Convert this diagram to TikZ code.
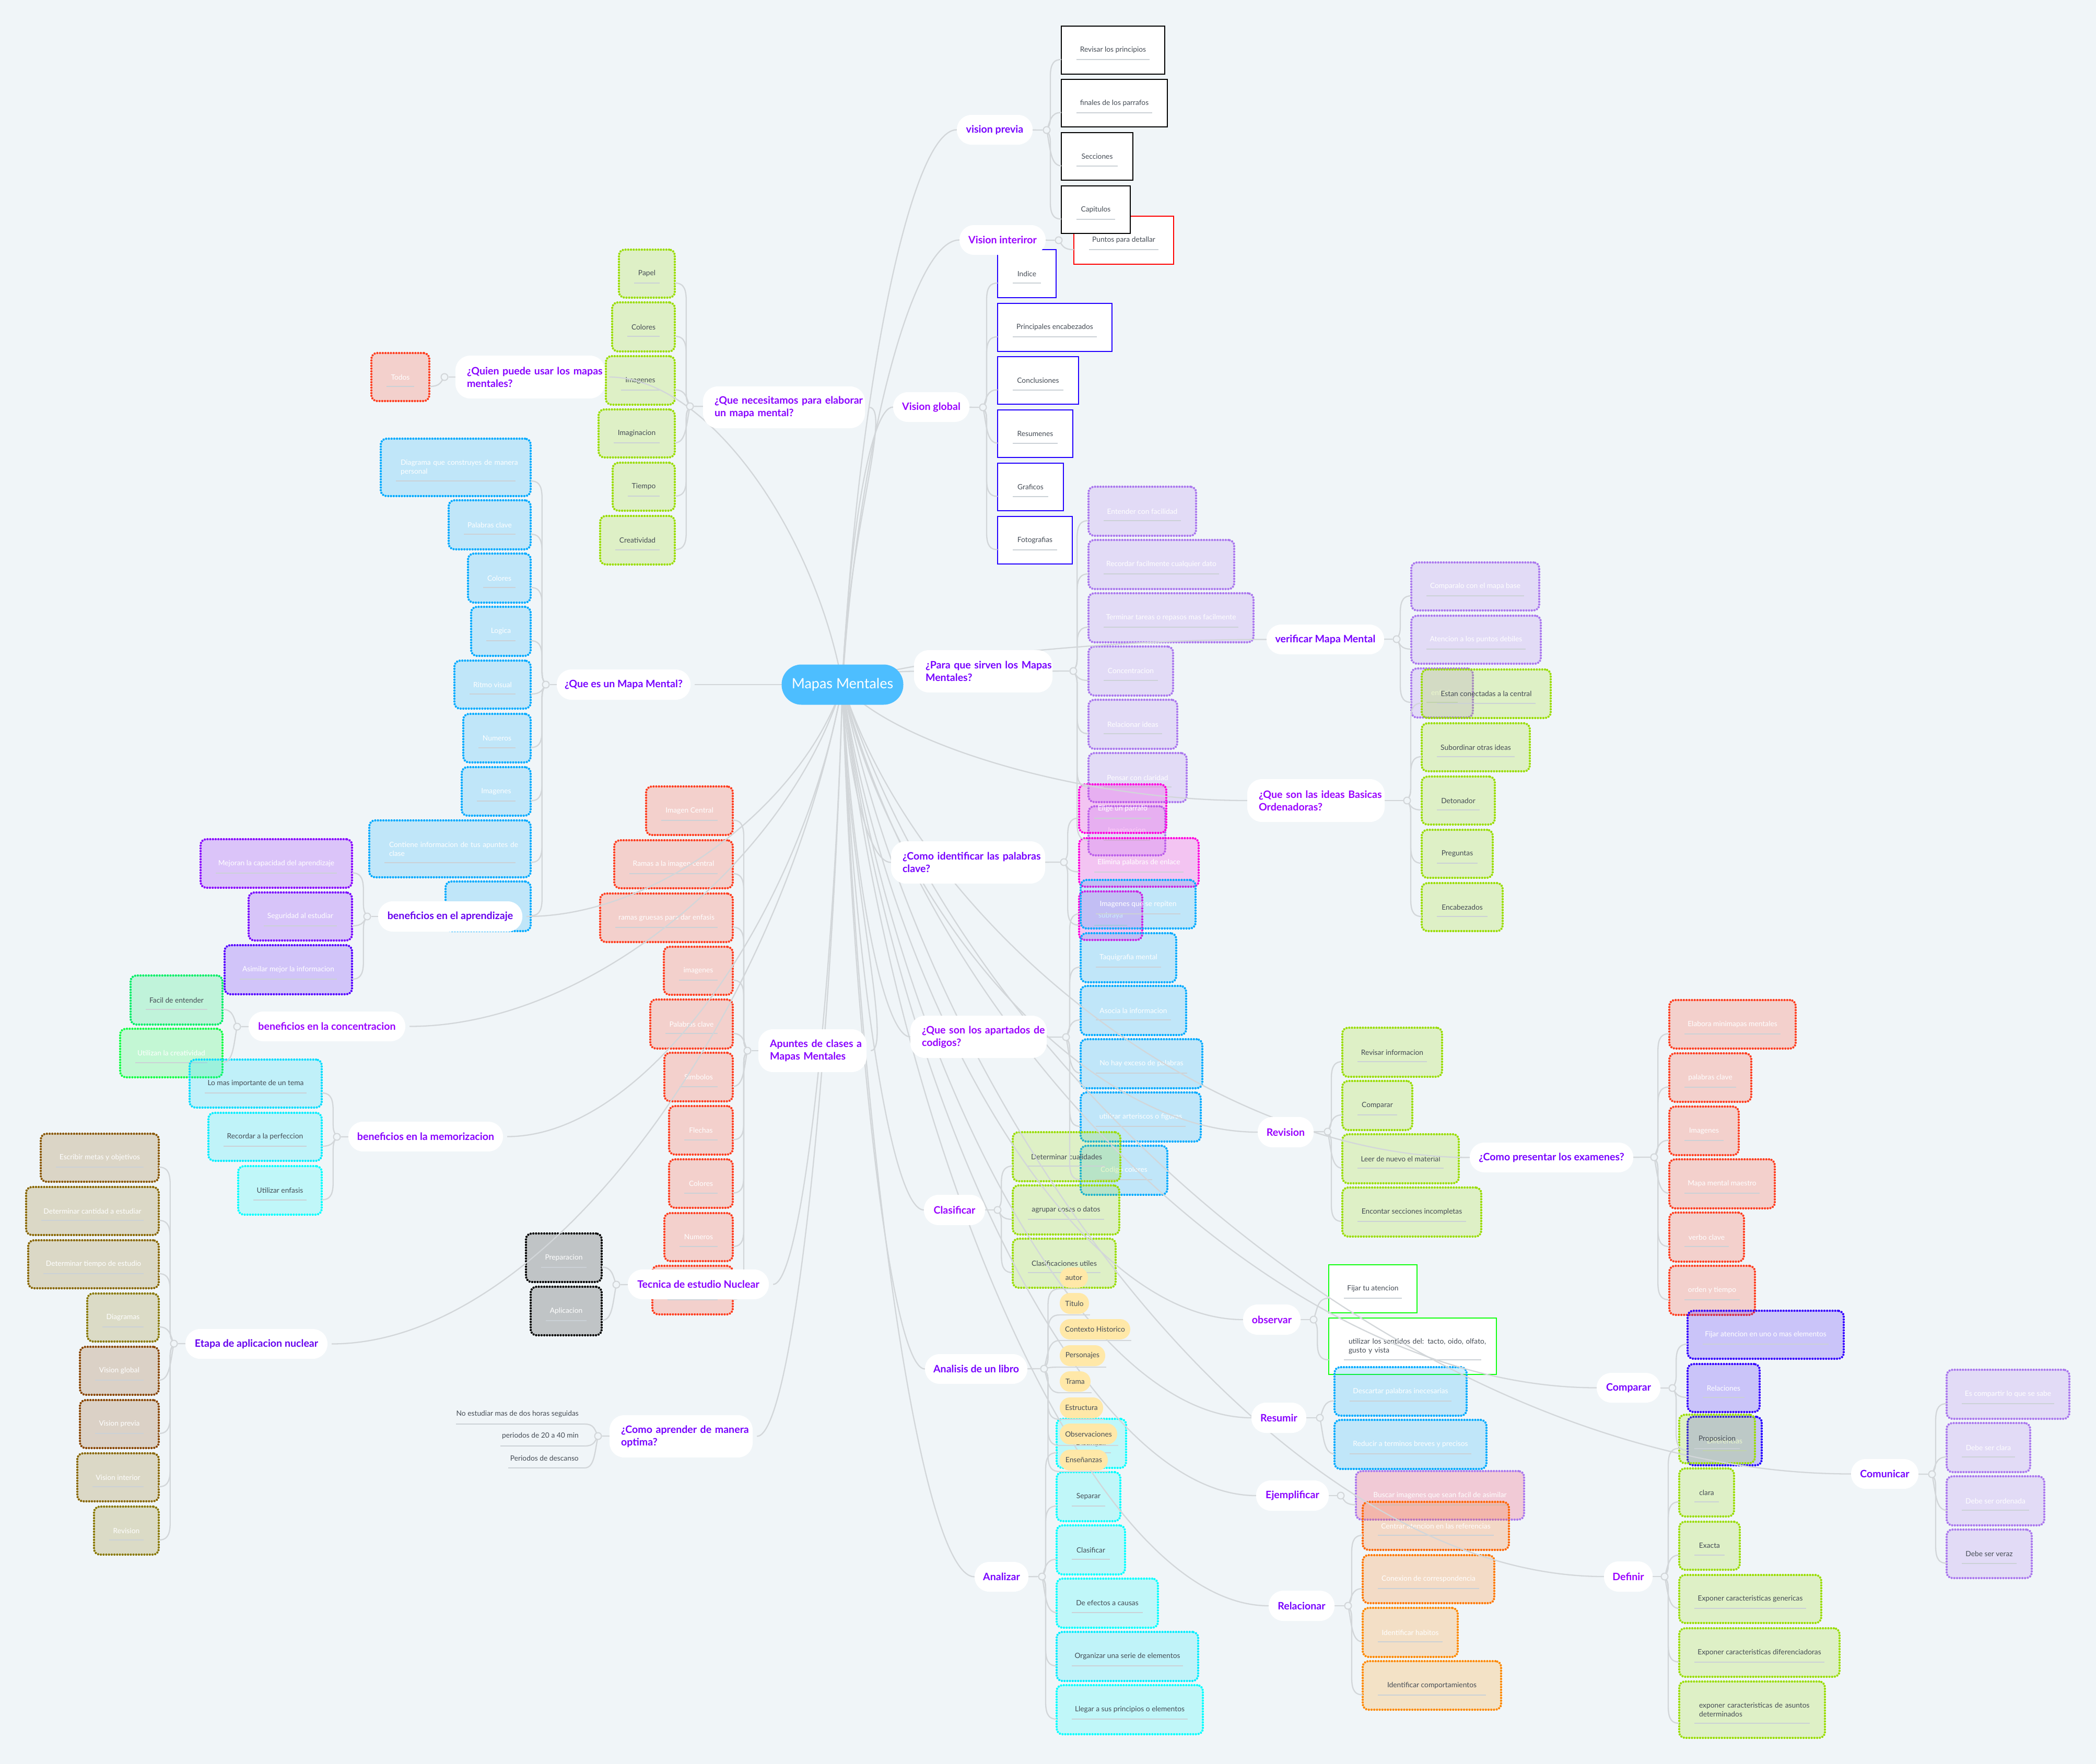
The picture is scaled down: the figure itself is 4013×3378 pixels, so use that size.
\documentclass[tikz,border=0pt]{standalone}
\usepackage{fontspec}
\setmainfont{Lato}
\definecolor{bgc}{HTML}{F0F5F8}
\definecolor{conc}{HTML}{D2D6D9}
\definecolor{ulc}{HTML}{CBD1D6}
\definecolor{txtc}{HTML}{454C55}
\definecolor{cLime}{HTML}{99DD00}
\definecolor{cRed}{HTML}{FF3D1F}
\definecolor{cBlue}{HTML}{00AAFF}
\definecolor{cViol}{HTML}{AA77EE}
\definecolor{cMag}{HTML}{FF00DD}
\definecolor{cIndigo}{HTML}{3300FF}
\definecolor{cCyan}{HTML}{00EEFF}
\definecolor{cBrownA}{HTML}{885500}
\definecolor{cBrownB}{HTML}{886600}
\definecolor{cBrownC}{HTML}{887700}
\definecolor{cBrownD}{HTML}{884400}
\definecolor{cP1}{HTML}{8800FF}
\definecolor{cP2}{HTML}{7700FF}
\definecolor{cP3}{HTML}{5500FF}
\definecolor{cG1}{HTML}{00EE66}
\definecolor{cG2}{HTML}{11FF44}
\definecolor{cC1}{HTML}{00DDFF}
\definecolor{cC2}{HTML}{00EEFF}
\definecolor{cC3}{HTML}{00FFFF}
\definecolor{cO1}{HTML}{FF6600}
\definecolor{cO2}{HTML}{FF7700}
\definecolor{cO3}{HTML}{FF8800}
\definecolor{cO4}{HTML}{FF9900}
\definecolor{cPink}{HTML}{F52050}
\definecolor{cFG}{HTML}{11FF11}
\definecolor{cBX}{HTML}{2200FF}
\definecolor{tA}{HTML}{8800FF}
\definecolor{tB}{HTML}{9900FF}
\definecolor{tC}{HTML}{7700FF}
\definecolor{tD}{HTML}{6600EE}
\definecolor{yel}{HTML}{FFE8A8}
\definecolor{cenc}{HTML}{4DBEFF}
\pgfdeclarelayer{lv}
\pgfdeclarelayer{cn}
\pgfsetlayers{lv,cn,main}
\newcommand\leaffont{\fontsize{13.8}{17}\selectfont}
\newcommand\pillfont{\fontsize{19.6}{24}\selectfont\bfseries}
\newcommand\tl[2]{\mbox{#1}\\\mbox{#2}}
\tikzset{
  lf/.style={draw=#1,fill=#1,fill opacity=.2,draw opacity=1,text opacity=1,rounded corners=11pt,
    dash pattern=on 0.01pt off 5.2pt,line cap=round,line width=4.3pt,inner sep=0pt,align=center,font=\leaffont},
  wb/.style={draw=#1,fill=white,line width=2.4pt,inner sep=0pt,align=center,font=\leaffont,text=txtc},
  wt/.style={text=white},
  dk/.style={text=txtc},
  two/.style={align=left,text width=\tw pt},
  plf/.style={inner sep=0pt,font=\leaffont,text=txtc,anchor=east},
  pl/.style={fill=white,rounded corners=28pt,inner sep=0pt,align=center,font=\pillfont,text=#1},
  yp/.style={fill=yel,rounded corners=19.5pt,inner sep=0pt,align=center,font=\leaffont,text=txtc},
  ul/.style={draw=ulc,line width=2pt},
  con/.style={draw=conc,line width=2.3pt},
  hubs/.style={circle,minimum size=13pt,inner sep=0pt,draw=conc,line width=2pt,fill=bgc},
  cent/.style={fill=cenc,rounded corners=38pt,inner sep=0pt,align=center,text=white,font=\fontsize{27}{32}\selectfont}
}
% leaf box: [underline offset]{style}{name}{x1}{y1}{x2}{y2}{text}
\newcommand\leaf[8][18]{%
  \pgfmathsetmacro\cxx{(#4+#6)/2}\pgfmathsetmacro\cyy{(#5+#7)/2}%
  \pgfmathsetmacro\nw{#6-#4}\pgfmathsetmacro\nh{#7-#5}\pgfmathsetmacro\tw{#6-#4-76}%
  \pgfmathsetmacro\uly{\cyy+#1}\pgfmathsetmacro\ula{#4+29}\pgfmathsetmacro\ulb{#6-29}%
  \node[#2,minimum width=\nw pt,minimum height=\nh pt] (#3) at (\cxx,\cyy) {#8};
  \coordinate (#3-l) at (#4,\uly);
  \coordinate (#3-r) at (#6,\uly);
  \draw[ul] (\ula,\uly) -- (\ulb,\uly);
}
% pill: {style}{name}{x1}{y1}{x2}{y2}{text}
\newcommand\pill[7]{%
  \pgfmathsetmacro\cxx{(#3+#5)/2}\pgfmathsetmacro\cyy{(#4+#6)/2}%
  \pgfmathsetmacro\nw{#5-#3}\pgfmathsetmacro\nh{#6-#4}\pgfmathsetmacro\tw{#5-#3-44}%
  \node[#1,minimum width=\nw pt,minimum height=\nh pt] (#2) at (\cxx,\cyy) {#7};
}
% yellow pill: {name}{x1}{y1}{x2}{y2}{text}
\newcommand\ypill[6]{%
  \pgfmathsetmacro\cxx{(#2+#4)/2}\pgfmathsetmacro\cyy{(#3+#5)/2}%
  \pgfmathsetmacro\nw{#4-#2}\pgfmathsetmacro\nh{#5-#3}\pgfmathsetmacro\uly{#5+2}\pgfmathsetmacro\ulb{#4+2}%
  \node[yp,minimum width=\nw pt,minimum height=\nh pt] (#1) at (\cxx,\cyy) {#6};
  \coordinate (#1-l) at (#2,\uly);
  \coordinate (#1-e) at (\ulb,\uly);
}
% plain text leaf: {name}{x1}{ytext}{x2}{text}
\newcommand\pleaf[5]{%
  \pgfmathsetmacro\uly{#3+19}\pgfmathsetmacro\txx{#4-11}%
  \node[plf] (#1) at (\txx,#3) {#5};
  \coordinate (#1-r) at (#4,\uly);
  \coordinate (#1-a) at (#2,\uly);
  \draw[ul] (#1-a) -- (#1-r);
}
% hub to leaf connector
\newcommand\lnk[2]{%
  \pgfpointanchor{#1}{center}\pgfgetlastxy{\hxd}{\hyd}%
  \pgfpointanchor{#2}{center}\pgfgetlastxy{\lxd}{\lyd}%
  \pgfmathsetmacro\hxx{\hxd/1pt}\pgfmathsetmacro\hyy{\hyd/1pt}%
  \pgfmathsetmacro\lxx{\lxd/1pt}\pgfmathsetmacro\lyy{\lyd/1pt}%
  \pgfmathsetmacro\xmm{\hxx+0.25*(\lxx-\hxx)}%
  \pgfmathsetmacro\dyy{abs(\lyy-\hyy)}%
  \pgfmathsetmacro\sgg{(\lyy>\hyy)?1:-1}%
  \ifdim\dyy pt<75pt
    \pgfmathsetmacro\yaa{\hyy+\sgg*0.5*\dyy}%
    \draw[con] (\hxd,\hyd) .. controls (\xmm pt,\yaa pt) and (\xmm pt,\lyy pt) .. (\lxd,\lyd);
  \else
    \pgfmathsetmacro\yaa{\hyy+\sgg*12}\pgfmathsetmacro\ybb{\hyy+\sgg*36}%
    \pgfmathsetmacro\ycc{\lyy-\sgg*32}\pgfmathsetmacro\ydd{\lyy-\sgg*6}%
    \pgfmathsetmacro\xee{\xmm+0.3*(\lxx-\hxx)}%
    \draw[con] (\hxd,\hyd) .. controls (\xmm pt,\yaa pt) and (\xmm pt,\yaa pt) .. (\xmm pt,\ybb pt) -- (\xmm pt,\ycc pt)
       .. controls (\xmm pt,\ydd pt) and (\xee pt,\lyy pt) .. (\lxd,\lyd);
  \fi
}
% centre to pill connectors
\newcommand\cenx[3]{% target x,y (dims), side sign
  \pgfpointanchor{cen}{center}\pgfgetlastxy{\axd}{\ayd}%
  \pgfmathsetmacro\axx{\axd/1pt}\pgfmathsetmacro\ayy{\ayd/1pt}%
  \pgfmathsetmacro\bxx{#1/1pt}\pgfmathsetmacro\byy{#2/1pt}%
  \pgfmathsetmacro\cax{\axx+0.12*(\bxx-\axx)}\pgfmathsetmacro\cay{\ayy+0.5*(\byy-\ayy)}%
  \pgfmathsetmacro\cbx{\bxx-(#3)*max(0.42*abs(\bxx-\axx),45)}%
  \draw[con] (cen.center) .. controls (\cax pt,\cay pt) and (\cbx pt,\byy pt) .. (\bxx pt,\byy pt);
}
\newcommand\cenR[1]{\pgfpointanchor{#1}{west}\pgfgetlastxy{\txd}{\tyd}\cenx{\txd}{\tyd}{1}}
\newcommand\cenL[1]{\pgfpointanchor{#1}{east}\pgfgetlastxy{\txd}{\tyd}\pgfmathsetlengthmacro\txe{\txd+8pt}\cenx{\txe}{\tyd}{-1}}
\begin{document}
\begin{tikzpicture}[x=1pt,y=-1pt]
\useasboundingbox (0,0) rectangle (4013,3378);
\begin{pgfonlayer}{lv}
\fill[bgc] (0,0) rectangle (4013,3378);
% materials
\leaf{lf=cLime,dk}{papel}{1185}{478}{1292}{570}{Papel}
\leaf{lf=cLime,dk}{colm}{1172}{579}{1292}{673}{Colores}
\leaf{lf=cLime,dk}{imgm}{1160}{682}{1292}{775}{Imagenes}
\leaf{lf=cLime,dk}{imag}{1146}{784}{1292}{876}{Imaginacion}
\leaf{lf=cLime,dk}{tiem}{1173}{886}{1292}{978}{Tiempo}
\leaf{lf=cLime,dk}{crea}{1149}{988}{1292}{1081}{Creatividad}
\leaf{lf=cRed,wt}{todos}{711}{676}{822}{768}{Todos}
% que es
\leaf[26]{lf=cBlue,wt,two}{diag}{729}{840}{1016}{950}{\tl{Diagrama que construyes de manera}{personal}}
\leaf{lf=cBlue,wt}{palq}{859}{958}{1016}{1052}{Palabras clave}
\leaf{lf=cBlue,wt}{colq}{896}{1060}{1016}{1154}{Colores}
\leaf{lf=cBlue,wt}{logi}{902}{1162}{1016}{1256}{Logica}
\leaf{lf=cBlue,wt}{ritm}{870}{1265}{1016}{1357}{Ritmo visual}
\leaf{lf=cBlue,wt}{numq}{887}{1367}{1016}{1460}{Numeros}
\leaf{lf=cBlue,wt}{imgq}{884}{1469}{1016}{1562}{Imagenes}
\leaf[26]{lf=cBlue,wt,two}{cont}{707}{1571}{1016}{1680}{\tl{Contiene informacion de tus apuntes de}{clase}}
\leaf{lf=cBlue,wt}{hidq}{853}{1688}{1016}{1783}{}
% beneficios
\leaf{lf=cP1,wt}{mejo}{384}{1607}{674}{1700}{Mejoran la capacidad del aprendizaje}
\leaf{lf=cP2,wt}{segu}{476}{1709}{674}{1801}{Seguridad al estudiar}
\leaf{lf=cP3,wt}{asim}{430}{1810}{674}{1904}{Asimilar mejor la informacion}
\leaf{lf=cG1,dk}{faci}{250}{1868}{426}{1962}{Facil de entender}
\leaf{lf=cG2,wt}{utcr}{230}{1970}{426}{2063}{Utilizan la creatividad}
\leaf{lf=cC1,dk}{loma}{363}{2029}{616}{2121}{Lo mas importante de un tema}
\leaf{lf=cC2,dk}{reco}{399}{2131}{616}{2223}{Recordar a la perfeccion}
\leaf{lf=cC3,dk}{uten}{456}{2233}{616}{2326}{Utilizar enfasis}
% etapa
\leaf{lf=cBrownA,wt}{escr}{78}{2171}{304}{2263}{Escribir metas y objetivos}
\leaf{lf=cBrownB,wt}{dcan}{50}{2273}{304}{2365}{Determinar cantidad a estudiar}
\leaf{lf=cBrownB,wt}{dtie}{54}{2375}{304}{2467}{Determinar tiempo de estudio}
\leaf{lf=cBrownC,wt}{diam}{167}{2477}{304}{2569}{Diagramas}
\leaf{lf=cBrownD,wt}{vglo}{153}{2579}{304}{2671}{Vision global}
\leaf{lf=cBrownD,wt}{vpre}{153}{2681}{304}{2773}{Vision previa}
\leaf{lf=cBrownB,wt}{vint}{148}{2783}{304}{2875}{Vision interior}
\leaf{lf=cBrownC,wt}{revi}{180}{2885}{304}{2977}{Revision}
\leaf{lf=black,wt}{prep}{1007}{2362}{1152}{2455}{Preparacion}
\leaf{lf=black,wt}{apli}{1016}{2464}{1152}{2557}{Aplicacion}
% apuntes
\leaf{lf=cRed,wt}{aimc}{1237}{1506}{1403}{1599}{Imagen Central}
\leaf{lf=cRed,wt}{aram}{1176}{1609}{1403}{1701}{Ramas a la imagen central}
\leaf{lf=cRed,wt}{agru}{1149}{1711}{1403}{1804}{ramas gruesas para dar enfasis}
\leaf{lf=cRed,wt}{aimg}{1271}{1813}{1403}{1905}{imagenes}
\leaf{lf=cRed,wt}{apal}{1245}{1914}{1403}{2008}{Palabras clave}
\leaf{lf=cRed,wt}{asim2}{1272}{2016}{1403}{2109}{Simbolos}
\leaf{lf=cRed,wt}{afle}{1281}{2118}{1403}{2211}{Flechas}
\leaf{lf=cRed,wt}{acol}{1281}{2220}{1403}{2313}{Colores}
\leaf{lf=cRed,wt}{anum}{1272}{2323}{1403}{2415}{Numeros}
\leaf{lf=cRed,wt}{ahid}{1249}{2424}{1403}{2517}{}
% plain
\pleaf{pnoe}{873}{2708}{1119}{No estudiar mas de dos horas seguidas}
\pleaf{pper}{958}{2750}{1119}{periodos de 20 a 40 min}
\pleaf{pdes}{973}{2792}{1119}{Periodos de descanso}
% vision
\leaf{wb=red}{punt}{2056}{414}{2247}{506}{Puntos para detallar}
\leaf{wb=black}{rprin}{2032}{50}{2230}{142}{Revisar los principios}
\leaf{wb=black}{finp}{2032}{152}{2235}{243}{finales de los parrafos}
\leaf{wb=black}{secc}{2032}{254}{2169}{345}{Secciones}
\leaf{wb=black}{capi}{2032}{356}{2164}{447}{Capitulos}
\leaf{wb=cBX}{indi}{1910}{478}{2022}{570}{Indice}
\leaf{wb=cBX}{prie}{1910}{581}{2129}{673}{Principales encabezados}
\leaf{wb=cBX}{conc}{1910}{683}{2065}{774}{Conclusiones}
\leaf{wb=cBX}{resu}{1910}{785}{2054}{876}{Resumenes}
\leaf{wb=cBX}{graf}{1910}{887}{2036}{978}{Graficos}
\leaf{wb=cBX}{foto}{1910}{989}{2053}{1080}{Fotografias}
% para que
\leaf{lf=cViol,wt}{ente}{2084}{932}{2290}{1026}{Entender con facilidad}
\leaf{lf=cViol,wt}{rfac}{2084}{1034}{2363}{1128}{Recordar facilmente cualquier dato}
\leaf{lf=cViol,wt}{term}{2084}{1136}{2400}{1230}{Terminar tareas o repasos mas facilmente}
\leaf{lf=cViol,wt}{cnct}{2084}{1238}{2246}{1332}{Concentracion}
\leaf{lf=cViol,wt}{reli}{2084}{1340}{2254}{1434}{Relacionar ideas}
\leaf{lf=cViol,wt}{pens}{2084}{1442}{2272}{1536}{Pensar con claridad}
\leaf{lf=cViol,wt}{imgp}{2084}{1544}{2231}{1638}{Imaginacion}
% palabras clave
\leaf{lf=cMag,wt}{elig}{2066}{1502}{2233}{1595}{Elige un parrafo}
\leaf{lf=cMag,wt}{elim}{2066}{1605}{2295}{1698}{Elimina palabras de enlace}
\leaf{lf=cMag,wt}{subr}{2066}{1707}{2187}{1800}{subraya}
% apartados
\leaf{lf=cBlue,wt}{irep}{2069}{1685}{2289}{1778}{Imagenes que se repiten}
\leaf{lf=cBlue,wt}{taqu}{2069}{1787}{2252}{1881}{Taquigrafia mental}
\leaf{lf=cBlue,wt}{asoc}{2069}{1888}{2271}{1982}{Asocia la informacion}
\leaf{lf=cBlue,wt}{noha}{2069}{1990}{2302}{2084}{No hay exceso de palabras}
\leaf{lf=cBlue,wt}{uart}{2069}{2092}{2299}{2186}{utilizar arteriscos o figuras}
\leaf{lf=cBlue,wt}{cocl}{2069}{2194}{2235}{2288}{Codigo colores}
% clasificar
\leaf{lf=cLime,dk}{dcua}{1939}{2168}{2145}{2262}{Determinar cualidades}
\leaf{lf=cLime,dk}{agco}{1939}{2270}{2143}{2364}{agrupar cosas o datos}
\leaf{lf=cLime,dk}{clut}{1939}{2372}{2136}{2466}{Clasificaciones utiles}
% revision
\leaf{lf=cLime,dk}{rinf}{2570}{1968}{2761}{2062}{Revisar informacion}
\leaf{lf=cLime,dk}{rcmp}{2570}{2070}{2704}{2164}{Comparar}
\leaf{lf=cLime,dk}{rlee}{2570}{2172}{2793}{2266}{Leer de nuevo el material}
\leaf{lf=cLime,dk}{renc}{2570}{2274}{2836}{2368}{Encontar secciones incompletas}
% examenes
\leaf{lf=cRed,wt}{xela}{3196}{1915}{3438}{2008}{Elabora minimapas mentales}
\leaf{lf=cRed,wt}{xpal}{3196}{2017}{3353}{2110}{palabras clave}
\leaf{lf=cRed,wt}{ximg}{3196}{2119}{3329}{2212}{Imagenes}
\leaf{lf=cRed,wt}{xmap}{3196}{2220}{3398}{2314}{Mapa mental maestro}
\leaf{lf=cRed,wt}{xver}{3196}{2322}{3339}{2416}{verbo clave}
\leaf{lf=cRed,wt}{xord}{3196}{2424}{3360}{2518}{orden y tiempo}
% observar
\leaf{wb=cFG}{ofij}{2544}{2422}{2713}{2514}{Fijar tu atencion}
\leaf[26]{wb=cFG,two}{osen}{2544}{2524}{2865}{2632}{\tl{utilizar los sentidos del: tacto, oido, olfato,}{gusto y vista}}
% resumir
\leaf{lf=cBlue,wt}{rdes}{2555}{2618}{2808}{2711}{Descartar palabras inecesarias}
\leaf{lf=cBlue,wt}{rred}{2555}{2719}{2846}{2813}{Reducir a terminos breves y precisos}
% ejemplificar
\leaf{lf=cViol,fill=cPink,wt}{ebus}{2596}{2817}{2918}{2910}{Buscar imagenes que sean facil de asimilar}
% relacionar
\leaf{lf=cO1,wt}{lcen}{2609}{2876}{2889}{2968}{Centrar atencion en las referencias}
\leaf{lf=cO2,wt}{lcon}{2609}{2978}{2861}{3070}{Conexion de correspondencia}
\leaf{lf=cO3,wt}{lhab}{2609}{3079}{2791}{3173}{Identificar habitos}
\leaf{lf=cO3,fill=cO4,dk}{lcom}{2609}{3181}{2874}{3274}{Identificar comportamientos}
% analizar
\leaf{lf=cC3,dk}{adis}{2023}{2717}{2156}{2811}{Distinguir}
\leaf{lf=cC3,dk}{asep}{2023}{2819}{2145}{2913}{Separar}
\leaf{lf=cC3,dk}{acla}{2023}{2921}{2154}{3015}{Clasificar}
\leaf{lf=cC3,dk}{aefe}{2023}{3023}{2217}{3117}{De efectos a causas}
\leaf{lf=cC2,dk}{aorg}{2023}{3125}{2294}{3219}{Organizar una serie de elementos}
\leaf{lf=cC3,dk}{alle}{2023}{3227}{2303}{3321}{Llegar a sus principios o elementos}
% verificar
\leaf{lf=cViol,wt}{vcom}{2702}{1077}{2947}{1169}{Comparalo con el mapa base}
\leaf{lf=cViol,wt}{vate}{2702}{1179}{2950}{1271}{Atencion a los puntos debiles}
\leaf{lf=cViol,wt}{venf}{2702}{1280}{2820}{1374}{enfasis}
% ideas
\leaf{lf=cLime,dk}{iest}{2722}{1282}{2969}{1375}{Estan conectadas a la central}
\leaf{lf=cLime,dk}{isub}{2722}{1385}{2929}{1477}{Subordinar otras ideas}
\leaf{lf=cLime,dk}{idet}{2722}{1487}{2862}{1579}{Detonador}
\leaf{lf=cLime,dk}{ipre}{2722}{1589}{2858}{1681}{Preguntas}
\leaf{lf=cLime,dk}{ienc}{2722}{1691}{2877}{1783}{Encabezados}
% comparar
\leaf{lf=cIndigo,wt}{cfij}{3231}{2510}{3530}{2602}{Fijar atencion en uno o mas elementos}
\leaf{lf=cIndigo,wt}{crel}{3231}{2612}{3369}{2704}{Relaciones}
\leaf{lf=cBX,wt}{cdif}{3231}{2713}{3373}{2806}{Diferencias}
% definir
\leaf{lf=cLime,dk}{dpro}{3215}{2709}{3360}{2802}{Proposicion}
\leaf{lf=cLime,dk}{dcla}{3215}{2812}{3320}{2904}{clara}
\leaf{lf=cLime,dk}{dexa}{3215}{2914}{3331}{3006}{Exacta}
\leaf{lf=cLime,dk}{dgen}{3215}{3016}{3487}{3108}{Exponer caracteristicas genericas}
\leaf{lf=cLime,dk}{ddif}{3215}{3118}{3522}{3211}{Exponer caracteristicas diferenciadoras}
\leaf[26]{lf=cLime,dk,two}{dasu}{3215}{3220}{3494}{3328}{\tl{exponer caracteristicas de asuntos}{determinados}}
% comunicar
\leaf{lf=cViol,wt}{mcom}{3727}{2623}{3962}{2717}{Es compartir lo que se sabe}
\leaf{lf=cViol,wt}{mcla}{3727}{2725}{3887}{2819}{Debe ser clara}
\leaf{lf=cViol,wt}{mord}{3727}{2827}{3914}{2921}{Debe ser ordenada}
\leaf{lf=cViol,dk}{mver}{3727}{2929}{3890}{3022}{Debe ser veraz}
\end{pgfonlayer}

% pills
\pill{pl=tA,two}{pquien}{872}{681}{1158}{763}{\tl{¿Quien puede usar los mapas}{mentales?}}
\pill{pl=tA,two}{pnec}{1346}{740}{1656}{820}{\tl{¿Que necesitamos para elaborar}{un mapa mental?}}
\pill{pl=tC}{pque}{1066}{1282}{1322}{1340}{¿Que es un Mapa Mental?}
\pill{pl=tD}{papr}{724}{1726}{1000}{1784}{beneficios en el aprendizaje}
\pill{pl=tB}{pcon}{476}{1937}{776}{1994}{beneficios en la concentracion}
\pill{pl=tA}{pmem}{667}{2148}{963}{2205}{beneficios en la memorizacion}
\pill{pl=tD}{peta}{355}{2545}{627}{2602}{Etapa de aplicacion nuclear}
\pill{pl=tA}{ptec}{1202}{2431}{1472}{2488}{Tecnica de estudio Nuclear}
\pill{pl=tC,two}{papre}{1167}{2710}{1441}{2791}{\tl{¿Como aprender de manera}{optima?}}
\pill{pl=tA,two}{papu}{1452}{1971}{1659}{2053}{\tl{Apuntes de clases a}{Mapas Mentales}}
\pill{pl=tC}{pvpr}{1832}{220}{1977}{277}{vision previa}
\pill{pl=tB}{pvin}{1837}{431}{2002}{488}{Vision interiror}
\pill{pl=tB}{pvgl}{1710}{751}{1856}{808}{Vision global}
\pill{pl=tC,two}{ppar}{1750}{1245}{2015}{1326}{\tl{¿Para que sirven los Mapas}{Mentales?}}
\pill{pl=tC,two}{pide}{1706}{1611}{2001}{1692}{\tl{¿Como identificar las palabras}{clave?}}
\pill{pl=tB,two}{papa}{1743}{1945}{2004}{2026}{\tl{¿Que son los apartados de}{codigos?}}
\pill{pl=tB}{pcla}{1769}{2288}{1886}{2346}{Clasificar}
\pill{pl=tB}{prev}{2408}{2139}{2515}{2197}{Revision}
\pill{pl=tC}{pexa}{2814}{2188}{3127}{2245}{¿Como presentar los examenes?}
\pill{pl=tB}{pobs}{2380}{2498}{2490}{2556}{observar}
\pill{pl=tA}{pres}{2396}{2686}{2501}{2744}{Resumir}
\pill{pl=tA}{peje}{2405}{2835}{2544}{2893}{Ejemplificar}
\pill{pl=tC}{prel}{2429}{3046}{2555}{3104}{Relacionar}
\pill{pl=tC}{pana}{1771}{2593}{1967}{2650}{Analisis de un libro}
\pill{pl=tC}{pani}{1866}{2991}{1969}{3048}{Analizar}
\pill{pl=tC}{pver}{2425}{1196}{2650}{1253}{verificar Mapa Mental}
\pill{pl=tB,two}{pbas}{2388}{1492}{2651}{1574}{\tl{¿Que son las ideas Basicas}{Ordenadoras?}}
\pill{pl=tC}{pcom}{3057}{2629}{3179}{2686}{Comparar}
\pill{pl=tB}{pdef}{3071}{2990}{3164}{3048}{Definir}
\pill{pl=tC}{pmun}{3544}{2794}{3673}{2851}{Comunicar}

% yellow pills
\ypill{yaut}{2029}{2427}{2083}{2466}{autor}
\ypill{ytit}{2029}{2476}{2085}{2516}{Titulo}
\ypill{ycon}{2029}{2526}{2164}{2565}{Contexto Historico}
\ypill{yper}{2029}{2576}{2116}{2616}{Personajes}
\ypill{ytra}{2029}{2626}{2088}{2665}{Trama}
\ypill{yest}{2029}{2676}{2112}{2716}{Estructura}
\ypill{yobs}{2029}{2726}{2139}{2766}{Observaciones}
\ypill{yens}{2029}{2776}{2121}{2816}{Enseñanzas}

% hubs
\node[hubs] (hquien) at (851,722) {};
\node[hubs] (hnec) at (1321,778) {};
\node[hubs] (hque) at (1045,1311) {};
\node[hubs] (hapr) at (703,1755) {};
\node[hubs] (hcon) at (454,1966) {};
\node[hubs] (hmem) at (645,2177) {};
\node[hubs] (heta) at (333,2573) {};
\node[hubs] (htec) at (1180,2460) {};
\node[hubs] (hapre) at (1145,2750) {};
\node[hubs] (hapu) at (1431,2012) {};
\node[hubs] (hvpr) at (2004,249) {};
\node[hubs] (hvin) at (2027,460) {};
\node[hubs] (hvgl) at (1882,780) {};
\node[hubs] (hpar) at (2055,1285) {};
\node[hubs] (hide) at (2037,1651) {};
\node[hubs] (hapa) at (2041,1986) {};
\node[hubs] (hcla) at (1910,2317) {};
\node[hubs] (hrev) at (2542,2167) {};
\node[hubs] (hexa) at (3167,2216) {};
\node[hubs] (hobs) at (2515,2527) {};
\node[hubs] (hres) at (2527,2715) {};
\node[hubs] (heje) at (2567,2864) {};
\node[hubs] (hrel) at (2581,3075) {};
\node[hubs] (hana) at (1999,2621) {};
\node[hubs] (hani) at (1995,3019) {};
\node[hubs] (hver) at (2674,1224) {};
\node[hubs] (hbas) at (2694,1533) {};
\node[hubs] (hcom) at (3202,2658) {};
\node[hubs] (hdef) at (3187,3019) {};
\node[hubs] (hmun) at (3699,2823) {};

\node[cent,minimum width=233pt,minimum height=77pt] (cen) at (1613,1311) {Mapas Mentales};

\begin{pgfonlayer}{cn}
\foreach \p in {pnec,pque,papr,pcon,pmem,peta,ptec,papre,papu,pquien}{\cenL{\p}}
\foreach \p in {pvpr,pvin,pvgl,ppar,pide,papa,pcla,prev,pexa,pobs,pres,peje,prel,pana,pani,pver,pbas,pcom,pdef,pmun}{\cenR{\p}}
\foreach \p/\h in {pquien/hquien,pnec/hnec,pque/hque,papr/hapr,pcon/hcon,pmem/hmem,peta/heta,ptec/htec,papre/hapre,papu/hapu,pvpr/hvpr,pvin/hvin,pvgl/hvgl,ppar/hpar,pide/hide,papa/hapa,pcla/hcla,prev/hrev,pexa/hexa,pobs/hobs,pres/hres,peje/heje,prel/hrel,pana/hana,pani/hani,pver/hver,pbas/hbas,pcom/hcom,pdef/hdef,pmun/hmun}{\draw[con] (\p) -- (\h);}
\foreach \a in {todos}{\lnk{hquien}{\a-r}}
\foreach \a in {papel,colm,imgm,imag,tiem,crea}{\lnk{hnec}{\a-r}}
\foreach \a in {diag,palq,colq,logi,ritm,numq,imgq,cont,hidq}{\lnk{hque}{\a-r}}
\foreach \a in {mejo,segu,asim}{\lnk{hapr}{\a-r}}
\foreach \a in {faci,utcr}{\lnk{hcon}{\a-r}}
\foreach \a in {loma,reco,uten}{\lnk{hmem}{\a-r}}
\foreach \a in {escr,dcan,dtie,diam,vglo,vpre,vint,revi}{\lnk{heta}{\a-r}}
\foreach \a in {prep,apli}{\lnk{htec}{\a-r}}
\foreach \a in {pnoe,pper,pdes}{\lnk{hapre}{\a-r}}
\foreach \a in {aimc,aram,agru,aimg,apal,asim2,afle,acol,anum,ahid}{\lnk{hapu}{\a-r}}
\foreach \a in {rprin,finp,secc,capi}{\lnk{hvpr}{\a-l}}
\foreach \a in {punt}{\lnk{hvin}{\a-l}}
\foreach \a in {indi,prie,conc,resu,graf,foto}{\lnk{hvgl}{\a-l}}
\foreach \a in {ente,rfac,term,cnct,reli,pens,imgp}{\lnk{hpar}{\a-l}}
\foreach \a in {elig,elim,subr}{\lnk{hide}{\a-l}}
\foreach \a in {irep,taqu,asoc,noha,uart,cocl}{\lnk{hapa}{\a-l}}
\foreach \a in {dcua,agco,clut}{\lnk{hcla}{\a-l}}
\foreach \a in {rinf,rcmp,rlee,renc}{\lnk{hrev}{\a-l}}
\foreach \a in {xela,xpal,ximg,xmap,xver,xord}{\lnk{hexa}{\a-l}}
\foreach \a in {ofij,osen}{\lnk{hobs}{\a-l}}
\foreach \a in {rdes,rred}{\lnk{hres}{\a-l}}
\foreach \a in {ebus}{\lnk{heje}{\a-l}}
\foreach \a in {lcen,lcon,lhab,lcom}{\lnk{hrel}{\a-l}}
\foreach \a in {yaut,ytit,ycon,yper,ytra,yest,yobs,yens}{\lnk{hana}{\a-l}\draw[con] (\a-l) -- (\a-e);}
\foreach \a in {adis,asep,acla,aefe,aorg,alle}{\lnk{hani}{\a-l}}
\foreach \a in {vcom,vate,venf}{\lnk{hver}{\a-l}}
\foreach \a in {iest,isub,idet,ipre,ienc}{\lnk{hbas}{\a-l}}
\foreach \a in {cfij,crel,cdif}{\lnk{hcom}{\a-l}}
\foreach \a in {dpro,dcla,dexa,dgen,ddif,dasu}{\lnk{hdef}{\a-l}}
\foreach \a in {mcom,mcla,mord,mver}{\lnk{hmun}{\a-l}}
\end{pgfonlayer}
\end{tikzpicture}
\end{document}
